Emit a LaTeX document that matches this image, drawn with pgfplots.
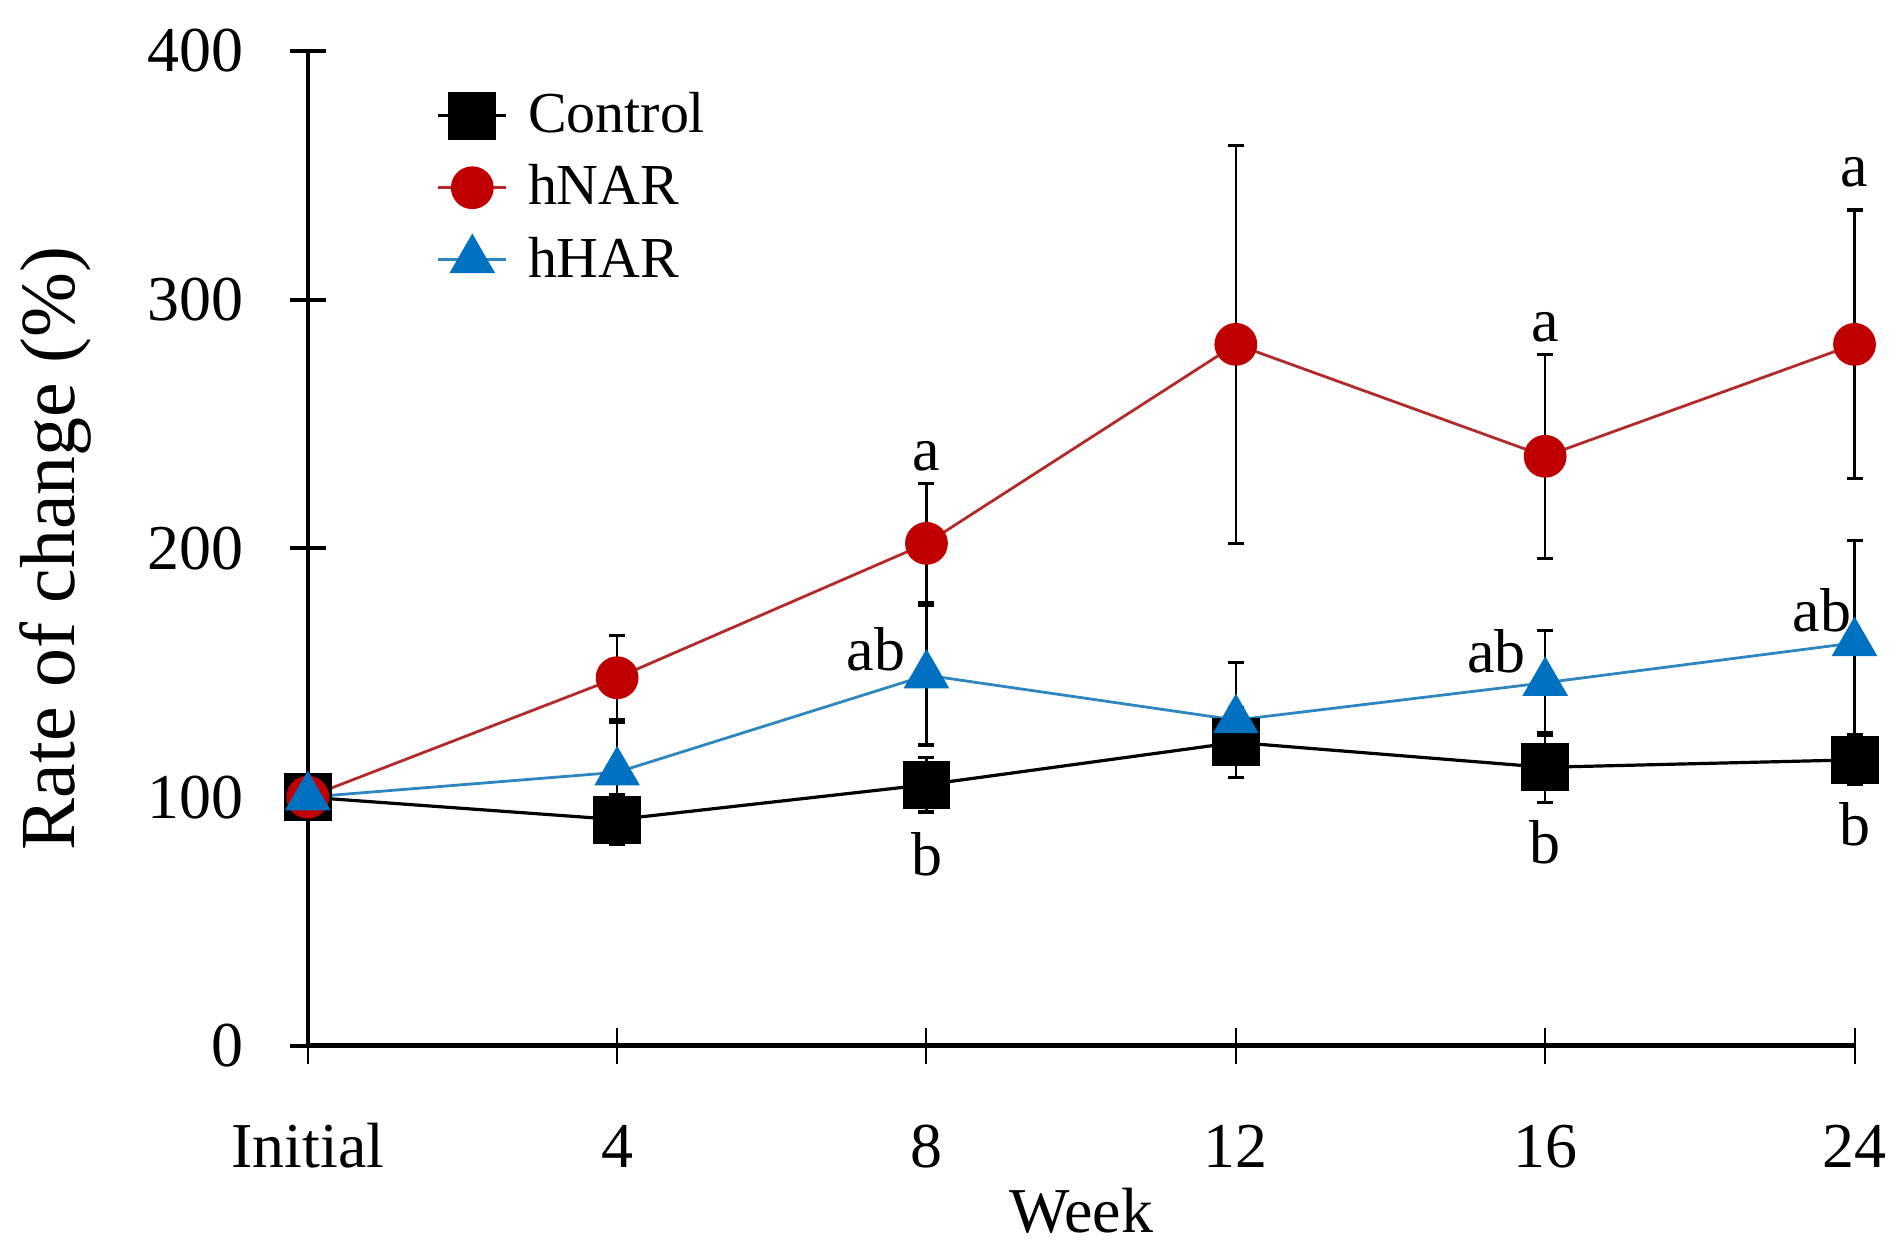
\documentclass[border=0pt]{standalone}
\usepackage{pgfplots}
\pgfplotsset{compat=1.18}
\usepackage{pgfplotstable}
\usepackage{fontspec}
\setmainfont{Liberation Serif}

\definecolor{ctrlc}{HTML}{000000}
\definecolor{narfill}{HTML}{C00000}
\definecolor{narline}{HTML}{B22A2A}
\definecolor{harfill}{HTML}{0070C0}
\definecolor{harline}{HTML}{2E86C1}

% x = category index (Initial, 4, 8, 12, 16, 24)
\pgfplotstableread{
x ctrl ctrlE nar narE har harE
0 100 0  100 0  100 0
1 91  10 148 17 110 20
2 105 11 202 24 149 28
3 122 14 282 80 131 23
4 112 14 237 41 146 21
5 115 10 282 54 162 41
}\datatab

\begin{document}
\begin{tikzpicture}
\begin{axis}[
    scale only axis,
    width=387pt, height=249pt,
    xmin=0, xmax=5, ymin=0, ymax=400,
    xtick={0,1,2,3,4,5},
    xticklabels={Initial,4,8,12,16,24},
    ytick={0,100,200,300,400},
    axis x line=bottom, axis y line=left,
    x axis line style={-, line width=1.25pt},
    y axis line style={-, line width=1pt},
    tick align=center,
    major tick length=9pt,
    xtick style={line width=0.5pt, black},
    ytick style={line width=1pt, black},
    /pgf/number format/assume math mode=true,
    ticklabel style={font=\fontsize{16}{18}\selectfont},
    xticklabel style={anchor=base, yshift=-26pt},
    yticklabel style={anchor=east, xshift=-8pt},
    xlabel={Week},
    ylabel={Rate of change (\%)},
    xlabel style={font=\fontsize{16}{18}\selectfont, at={(axis description cs:0.5,-0.166)}, anchor=center},
    ylabel style={font=\fontsize{19.5}{22}\selectfont, at={(axis description cs:-0.163,0.5)}, anchor=center},
    clip=false,
    legend style={draw=none, fill=none, at={(rel axis cs:0.075,0.975)}, anchor=north west,
        font=\fontsize{14.5}{17}\selectfont, row sep=2.5pt,
        nodes={inner xsep=5pt}},
    legend cell align=left,
    legend image code/.code={
        \draw[mark repeat=2, mark phase=2, #1]
            plot coordinates {(0cm,0cm) (0.3cm,0cm) (0.6cm,0cm)};},
    error bars/error bar style={black, line width=0.6pt},
    error bars/error mark options={black, line width=0.8pt, mark size=2pt, rotate=90},
]
\addplot[ctrlc, line width=0.8pt, mark=square*, mark size=5.6pt,
    mark options={fill=black, draw=black},
    error bars/.cd, y dir=both, y explicit]
    table[x=x, y=ctrl, y error=ctrlE] {\datatab};
\addlegendentry{Control}
\addplot[narline, line width=0.7pt, mark=*, mark size=5pt,
    mark options={fill=narfill, draw=narfill},
    error bars/.cd, y dir=both, y explicit]
    table[x=x, y=nar, y error=narE] {\datatab};
\addlegendentry{hNAR}
\addplot[harline, line width=0.7pt, mark=triangle*, mark size=5.9pt,
    mark options={fill=harfill, draw=harfill},
    error bars/.cd, y dir=both, y explicit]
    table[x=x, y=har, y error=harE] {\datatab};
\addlegendentry{hHAR}

% significance letters
\begin{scope}[font=\fontsize{15.5}{18}\selectfont]
\node at (axis cs:2,237) {a};
\node at (axis cs:1.837,159.5) {ab};
\node at (axis cs:2,77) {b};
\node at (axis cs:4,289) {a};
\node at (axis cs:3.842,158.5) {ab};
\node at (axis cs:4,82) {b};
\node at (axis cs:5,351) {a};
\node at (axis cs:4.894,175) {ab};
\node at (axis cs:5,89) {b};
\end{scope}

\path (rel axis cs:-0.199,-0.209) rectangle (rel axis cs:1.032,1.051);
\end{axis}
\end{tikzpicture}
\end{document}
